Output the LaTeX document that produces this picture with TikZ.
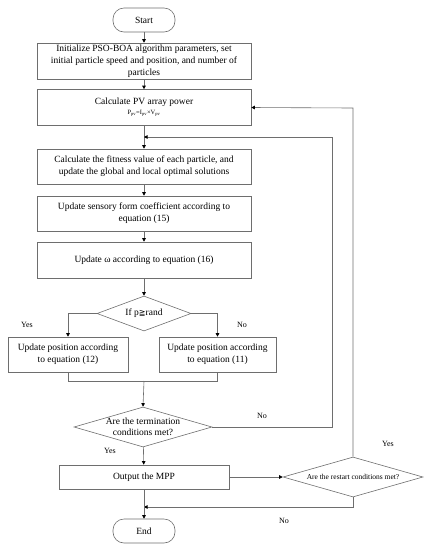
\documentclass[tikz,border=0pt]{standalone}
\usepackage{fontspec}
\setmainfont{Liberation Serif}
\newfontfamily\symfont{DejaVu Sans}
\usetikzlibrary{arrows.meta,shapes.geometric}
\definecolor{ln}{RGB}{110,110,110}
\tikzset{
  box/.style={draw=ln, line width=0.6pt, rectangle, align=center, inner sep=1pt,
    font=\fontsize{9.5}{12}\selectfont},
  term/.style={draw=ln, line width=0.6pt, rectangle, rounded corners=11pt,
    minimum width=62pt, minimum height=24pt, font=\fontsize{9.5}{12}\selectfont},
  dia/.style={draw=ln, line width=0.6pt, diamond, inner sep=0pt},
  conn/.style={draw=ln, line width=0.6pt},
  arr/.style={conn, -{Triangle[length=3.5pt,width=3.5pt,color=black]}},
  lbl/.style={font=\fontsize{8}{10}\selectfont},
}
\begin{document}
\begin{tikzpicture}[x=1pt,y=-1pt]
\useasboundingbox (0,0) rectangle (431,550);
\node[term] (start) at (144,20) {Start};
\node[box, minimum width=214pt, minimum height=36pt] (b1) at (144,61)
  {Initialize PSO-BOA algorithm parameters, set\\ initial particle speed and position, and number of\\ particles};
\node[box, minimum width=214pt, minimum height=36pt] (b2) at (144,107.5)
  {Calculate PV array power\\[-2pt] {\fontsize{6.5}{8}\selectfont P$_{\mathrm{pv}}$=I$_{\mathrm{pv}}$×V$_{\mathrm{pv}}$}};
\node[box, minimum width=214pt, minimum height=35pt] (b3) at (144,166.5)
  {Calculate the fitness value of each particle, and\\ update the global and local optimal solutions};
\node[box, minimum width=214pt, minimum height=35pt] (b4) at (144,213.5)
  {Update sensory form coefficient according to\\ equation (15)};
\node[box, minimum width=214pt, minimum height=36pt] (b5) at (144,260)
  {Update ω according to equation (16)};
\node[dia, minimum width=94pt, minimum height=35pt,
  label={[font=\fontsize{9.5}{12}\selectfont]center:If p{\symfont\fontsize{8}{10}\selectfont ≧}rand}] (d1) at (144,313.5) {};
\node[box, minimum width=120pt, minimum height=35pt] (b6) at (68,354.5)
  {Update position according\\ to equation (12)};
\node[box, minimum width=117pt, minimum height=35pt] (b7) at (217.5,354.5)
  {Update position according\\ to equation (11)};
\node[dia, minimum width=138pt, minimum height=40pt,
  label={[font=\fontsize{9.5}{11}\selectfont, align=center]center:Are the termination\\ conditions met?}] (d2) at (143,427) {};
\node[box, minimum width=170pt, minimum height=24pt] (b8) at (144,477) {Output the MPP};
\node[dia, minimum width=140pt, minimum height=40pt,
  label={[font=\fontsize{7.5}{9}\selectfont]center:Are the restart conditions met?}] (d3) at (353,477) {};
\node[term] (end) at (144,531) {End};

\coordinate (m1) at (144,137);
\coordinate (m2) at (144,381);
\coordinate (m3) at (144,507);
\coordinate (r1) at (332,137);
\coordinate (r2) at (332,427);
\coordinate (s1) at (353,108);
\coordinate (s2) at (353,507);
\coordinate (l6) at (68,381);
\coordinate (l7) at (217.5,381);

\draw[arr] (start) -- (b1);
\draw[arr] (b1) -- (b2);
\draw[arr] (b2) -- (b3);
\draw[arr] (b3) -- (b4);
\draw[arr] (b4) -- (b5);
\draw[arr] (b5) -- (d1);
\draw[arr] (d1.west) -| (b6.north);
\draw[arr] (d1.east) -| (b7.north);
\draw[conn] (b6.south) -- (l6) -- (l7) -- (b7.south);
\draw[arr] (m2) -- (d2.north);
\draw[arr] (d2.east) -- (r2) -- (r1) -- (m1);
\draw[arr] (d2) -- (b8);
\draw[arr] (b8) -- (d3.west);
\draw[arr] (d3.north) -- (s1) -- (b2.east);
\draw[arr] (d3.south) -- (s2) -- (m3);
\draw[arr] (b8) -- (end);

\node[lbl] (y1) at (27,325) {Yes};
\node[lbl] (n1) at (242,325) {No};
\node[lbl] (n2) at (262,416) {No};
\node[lbl] (y2) at (110,451) {Yes};
\node[lbl] (y3) at (388,444) {Yes};
\node[lbl] (n3) at (284,521) {No};
\end{tikzpicture}
\end{document}
